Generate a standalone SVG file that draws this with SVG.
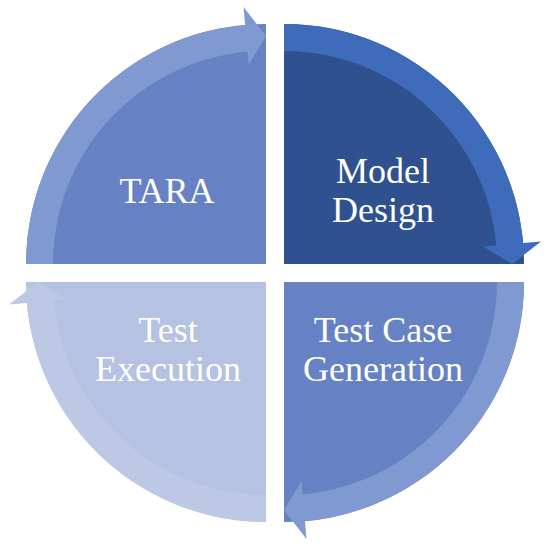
<svg xmlns="http://www.w3.org/2000/svg" width="549" height="550" viewBox="0 0 549 550">
<defs>
<style>
.lbl{font-family:"Liberation Serif","Times New Roman",serif;font-size:36px;fill:#ffffff;text-anchor:middle}
</style>
<path id="quad" d="M0,0 L-240,0 A240,240 0 0 1 0,-240 Z"/>
<path id="band" d="M-240,0 A240,240 0 0 1 -20.92,-239.09 L-22.49,-257.02 L0,-228 L-17.43,-199.24 L-18.56,-212.19 A213,213 0 0 0 -213,0 Z"/>
</defs>
<rect width="549" height="550" fill="#ffffff"/>
<g id="tara">
<use href="#quad" transform="translate(266,264)" fill="#6682c4"/>
<text class="lbl" x="167" y="203">TARA</text>
</g>
<g id="model-design">
<use href="#quad" transform="translate(284,264) rotate(90)" fill="#2f5190"/>
<text class="lbl" x="383" y="183">Model</text>
<text class="lbl" x="383" y="222">Design</text>
</g>
<g id="test-case-generation">
<use href="#quad" transform="translate(284,282) rotate(180)" fill="#6682c4"/>
<text class="lbl" x="383" y="342">Test Case</text>
<text class="lbl" x="383" y="381">Generation</text>
</g>
<g id="test-execution">
<use href="#quad" transform="translate(266,282) rotate(270)" fill="#b5c2e2"/>
<text class="lbl" x="168" y="342">Test</text>
<text class="lbl" x="168" y="381">Execution</text>
</g>
<g id="connectors">
<use href="#band" transform="translate(266,264)" fill="#8099d0"/>
<use href="#band" transform="translate(284,264) rotate(90)" fill="#3e6cbb"/>
<use href="#band" transform="translate(284,282) rotate(180)" fill="#8099d0"/>
<use href="#band" transform="translate(266,282) rotate(270)" fill="#bdc8e5"/>
</g>
</svg>
